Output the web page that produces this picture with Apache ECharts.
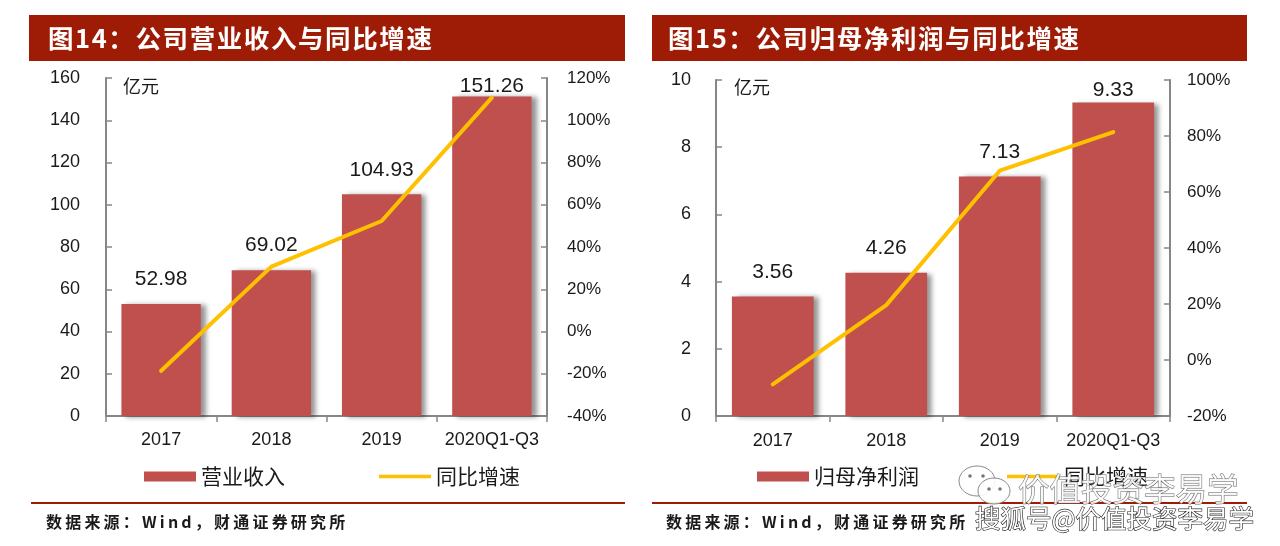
<!DOCTYPE html>
<html>
<head>
<meta charset="utf-8">
<style>html,body{margin:0;padding:0;background:#fff}#c{width:1280px;height:546px}</style>
<script src="https://cdn.jsdelivr.net/npm/echarts@6/dist/echarts.min.js"></script>
</head>
<body>
<div id="c"></div>
<script>
// Revenue and net profit, each with year-on-year growth
const categories = ['2017', '2018', '2019', '2020Q1-Q3'];
const revenue = [52.98, 69.02, 104.93, 151.26];
const revenueGrowth = [-18.6, 30.7, 52.3, 110.7];
const netProfit = [3.56, 4.26, 7.13, 9.33];
const netProfitGrowth = [-8.7, 19.6, 67.6, 81.4];

// \uFF1A and \uFF0C are the full-width colon and comma
const titleLeft = '图14\uFF1A公司营业收入与同比增速';
const titleRight = '图15\uFF1A公司归母净利润与同比增速';
const sourceText = '数据来源\uFF1AWind\uFF0C财通证券研究所';
const unitText = '亿元';
const watermarkA = '价值投资李易学';
const watermarkB = '搜狐号@价值投资李易学';

const RED = '#9E1C05', BAR = '#C0504D', LINE = '#FFC000', AXIS = '#868686', INK = '#1a1a1a';
const SANS = '"Liberation Sans", Arial, sans-serif';
const CJK = '"Noto Sans CJK SC", sans-serif';

// Thin line swatch for the legend; the corner specks hold the icon box open
const LINE_ICON = 'path://M0,0h.01v.01h-.01z M0,3.2H52V6.8H0z M52,10h-.01v-.01h.01z';

// Widen the tracking of headings with thin spaces between the glyphs
const track = (s, sp) => Array.from(s).join(sp);

const barStyle = {
  color: BAR,
  shadowColor: 'rgba(0,0,0,0.42)',
  shadowBlur: 5,
  shadowOffsetX: 5,
  shadowOffsetY: 1
};

function panel(i, barName, bars, growth, lastLabelGap) {
  return [
    {
      name: barName, type: 'bar', xAxisIndex: i, yAxisIndex: i * 2,
      // the tallest bar sits close to the top of the plot, so its label hugs it
      data: bars.map((v, k) => k === bars.length - 1 ? { value: v, label: { distance: lastLabelGap } } : v),
      barWidth: '72%', itemStyle: barStyle, z: 2,
      label: {
        show: true, position: 'top', distance: 14,
        color: INK, fontFamily: SANS, fontSize: 21,
        formatter: p => p.value.toFixed(2)
      }
    },
    {
      name: '同比增速', type: 'line', xAxisIndex: i, yAxisIndex: i * 2 + 1, data: growth,
      symbol: 'none', z: 3,
      lineStyle: { color: LINE, width: 4, cap: 'round' },
      itemStyle: { color: LINE }
    }
  ];
}

function catAxis(gridIndex, margin) {
  return {
    type: 'category', gridIndex, data: categories,
    axisLine: { lineStyle: { color: AXIS, width: 2 } },
    axisTick: { show: true, alignWithLabel: false, length: 6, lineStyle: { color: AXIS, width: 1.5 } },
    axisLabel: { color: INK, fontFamily: SANS, fontSize: 18, margin, hideOverlap: false, interval: 0 }
  };
}

function valAxis(gridIndex, position, min, max, interval, margin, percent) {
  return {
    type: 'value', gridIndex, position, min, max, interval,
    splitLine: { show: false },
    axisLine: { show: true, lineStyle: { color: AXIS, width: 2 } },
    axisTick: { show: true, inside: true, length: 6, lineStyle: { color: AXIS, width: 1.5 } },
    axisLabel: {
      color: INK, margin, fontFamily: SANS, padding: [3, 0, 0, 0],
      fontSize: percent ? 17 : 18,
      formatter: percent ? v => v + '%' : v => String(v)
    }
  };
}

function legendFor(left, names, gap) {
  return {
    left, top: 461, itemWidth: 52, itemHeight: 10, itemGap: gap,
    data: [
      { name: names[0], icon: 'rect', itemStyle: { color: BAR, shadowBlur: 0, shadowOffsetX: 0, shadowOffsetY: 0 } },
      { name: names[1], icon: LINE_ICON, itemStyle: { color: LINE } }
    ],
    textStyle: { color: INK, fontFamily: CJK, fontSize: 21 }
  };
}

function banner(x, w, inset, text) {
  return [
    { type: 'rect', shape: { x, y: 15, width: w, height: 46 }, style: { fill: RED } },
    { type: 'text', x: x + inset, y: 38, style: { text: track(text, '\u200a'), fill: '#fff', font: 'bold 25.5px ' + CJK, textVerticalAlign: 'middle' } }
  ];
}

function footer(x, w, tx) {
  return [
    { type: 'rect', shape: { x, y: 502, width: w, height: 2 }, style: { fill: RED } },
    { type: 'text', x: tx, y: 522, style: { text: track(sourceText, '\u2009'), fill: INK, font: 'bold 16px ' + CJK, textVerticalAlign: 'middle' } }
  ];
}

function unit(x, y) {
  return { type: 'text', x, y, style: { text: unitText, fill: INK, font: '18px ' + CJK, textVerticalAlign: 'middle' } };
}

// Chat-bubble mark and the two account captions laid over the right footer
function watermark() {
  const bubble = (cx, cy, rx, ry) => ({ type: 'ellipse', shape: { cx, cy, rx, ry }, style: { fill: 'rgba(255,255,255,0.9)', stroke: '#8a8a8a', lineWidth: 1 } });
  const eye = (cx, cy) => ({ type: 'circle', shape: { cx, cy, r: 1.8 }, style: { fill: '#777' } });
  return [
    bubble(977, 481, 18, 15), eye(970, 476), eye(983, 476),
    bubble(994, 491, 16, 13), eye(989, 489), eye(1000, 489),
    { type: 'text', x: 1018, y: 489, style: { text: watermarkA, fill: 'rgba(255,255,255,0.85)', stroke: '#666', lineWidth: 1, font: '31.5px ' + CJK, textVerticalAlign: 'middle' } },
    { type: 'text', x: 975, y: 518, style: { text: watermarkB, fill: '#fff', stroke: '#222', lineWidth: 1.2, font: '25.5px ' + CJK, textVerticalAlign: 'middle' } }
  ];
}

const chart = echarts.init(document.getElementById('c'), null, { renderer: 'canvas' });
chart.setOption({
  animation: false,
  backgroundColor: '#fff',
  grid: [
    { left: 106, width: 441, top: 78, height: 338 },
    { left: 716, width: 454, top: 80, height: 336 }
  ],
  xAxis: [catAxis(0, 15), catAxis(1, 16)],
  yAxis: [
    valAxis(0, 'left', 0, 160, 20, 26, false),
    valAxis(0, 'right', -40, 120, 20, 20, true),
    valAxis(1, 'left', 0, 10, 2, 25, false),
    valAxis(1, 'right', -20, 100, 20, 17, true)
  ],
  legend: [
    legendFor(139, ['营业收入', '同比增速'], 94),
    legendFor(752, ['归母净利润', '同比增速'], 88)
  ],
  series: [
    ...panel(0, '营业收入', revenue, revenueGrowth, 0),
    ...panel(1, '归母净利润', netProfit, netProfitGrowth, 2)
  ],
  graphic: { elements: [
    ...banner(29, 596, 19, titleLeft),
    ...banner(652, 595, 16, titleRight),
    ...footer(31, 594, 46),
    ...footer(652, 595, 666),
    unit(123, 86),
    unit(734, 87),
    ...watermark()
  ].map(e => Object.assign({ z: 100, silent: true }, e)) }
});
</script>
</body>
</html>
